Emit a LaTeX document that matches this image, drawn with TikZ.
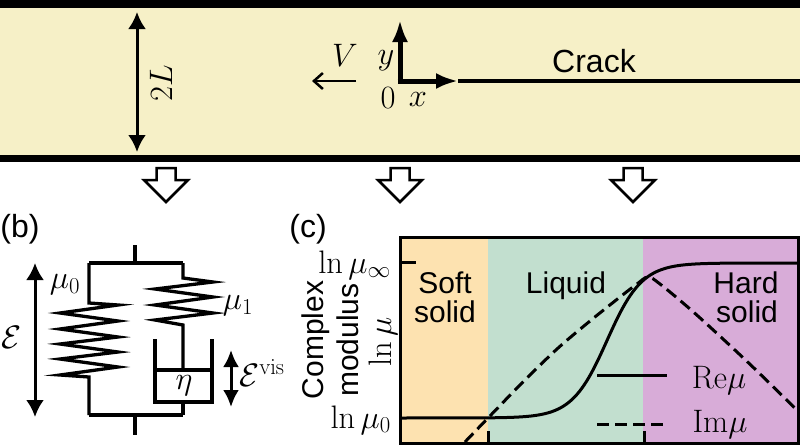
\RequirePackage{fix-cm}
\documentclass[tikz,border=0pt]{standalone}
\usepackage[no-math]{fontspec}
\setsansfont{Liberation Sans}
\usetikzlibrary{arrows.meta}
\definecolor{stripc}{RGB}{246,240,199}
\definecolor{softc}{RGB}{253,226,176}
\definecolor{liqc}{RGB}{194,223,207}
\definecolor{hardc}{RGB}{216,172,216}
\begin{document}
\begin{tikzpicture}[x=1pt,y=-1pt,
  font=\fontsize{32.5}{34}\selectfont,
  every node/.style={inner sep=0pt},
  txt/.style={font=\sffamily\fontsize{30}{30}\selectfont},
  bigtxt/.style={font=\sffamily\fontsize{32}{32}\selectfont},
  spr/.style={line width=3.3pt, line join=miter},
  hollow/.style={draw=black, fill=white, line width=2.5pt, line join=miter},
  dbl/.style={line width=3pt, {Latex[length=17pt,width=18pt]}-{Latex[length=17pt,width=18pt]}},
  axarr/.style={line width=5pt, -{Latex[length=22pt,width=16pt]}},
  curve/.style={line width=3pt},
  dashc/.style={line width=3pt, dash pattern=on 12pt off 6pt}]
\useasboundingbox (0,0) rectangle (800,445);
% ---------- (a) strip ----------
\fill[black] (0,0) rectangle (800,7.5);
\fill[stripc] (0,7.5) rectangle (800,154.5);
\fill[black] (0,154.5) rectangle (800,162);
\coordinate (Ltop) at (137,12);
\coordinate (Lbot) at (137,152);
\draw[dbl] (Ltop) -- (Lbot);
\node[rotate=90] (twoL) at (161,83) {$2L$};
\coordinate (Vs) at (356,81);
\coordinate (Ve) at (312,81);
\draw[line width=2.5pt, -{Straight Barb[length=9pt,width=16pt]}] (Vs) -- (Ve);
\node (V) at (345,55) {$V$};
\coordinate (O) at (400,81);
\coordinate (Ytip) at (400,20);
\coordinate (Xtip) at (458,81);
\coordinate (Cend) at (800,81);
\draw[line width=3.5pt] (Xtip) -- (Cend);
\draw[axarr] ([yshift=2.5pt]O) -- (Ytip);
\draw[axarr] ([xshift=-2.5pt]O) -- (Xtip);
\node (ylab) at (386,61) {$y$};
\node (zero) at (388,98) {$0$};
\node (xlab) at (418,99) {$x$};
\node[bigtxt] (crack) at (594,61) {Crack};
% hollow arrows
\foreach \cx in {166,400,633}{
  \draw[hollow] (\cx-9.5,168) -- (\cx+9.5,168) -- (\cx+9.5,180) -- (\cx+22,180)
     -- (\cx,202) -- (\cx-22,180) -- (\cx-9.5,180) -- cycle;
}
% ---------- (b) ----------
\node[bigtxt] (blab) at (20,229) {(b)};
\coordinate (topl) at (135,245);
\coordinate (topm) at (135,263);
\coordinate (botm) at (135,415);
\coordinate (botl) at (135,435);
\draw[spr] (topl) -- (topm);
\draw[spr] (botm) -- (botl);
\draw[spr] (89,263) -- (183,263);
\draw[spr] (89,415) -- (183,415);
\draw[spr] (89,263) -- (89,303) -- (118,305) -- (60,313) -- (118,321) -- (60,329)
  -- (118,337) -- (60,344) -- (118,352) -- (60,359) -- (118,367) -- (60,375)
  -- (89,377) -- (89,415);
\draw[spr] (183,263) -- (183,278) -- (213,282) -- (155,289) -- (213,297) -- (155,305)
  -- (213,313) -- (155,320) -- (183,325) -- (183,370);
\draw[spr] (155,370) -- (212,370);
\draw[spr] (155,339) -- (155,402) -- (212,402) -- (212,339);
\draw[spr] (183,402) -- (183,415);
\node (mu0) at (65,285) {$\mu_0$};
\node (mu1) at (238,306) {$\mu_1$};
\node (eta) at (184,386) {$\eta$};
\coordinate (Et) at (35,263);
\coordinate (Eb) at (35,417);
\draw[dbl] (Et) -- (Eb);
\node (E) at (12,337) {$\mathcal{E}$};
\coordinate (Evt) at (231,350);
\coordinate (Evb) at (231,407);
\draw[line width=3pt, {Latex[length=17pt,width=16pt]}-{Latex[length=17pt,width=16pt]}] (Evt) -- (Evb);
\node[anchor=west] (Ev) at (239,373) {$\mathcal{E}^{\mathrm{vis}}$};
% ---------- (c) ----------
\node[bigtxt] (clab) at (308,229) {(c)};
\fill[softc] (400,237) rectangle (488,445);
\fill[liqc] (488,237) rectangle (643,445);
\fill[hardc] (643,237) rectangle (798,445);
\begin{scope}
\clip (400,237) rectangle (798,443);
\draw[curve] (400,418) -- plot[domain=480:720, samples=100] (\x, {418-155/(1+exp(-(\x-607)/17.5))}) -- (798,263);
\draw[dashc] plot[smooth, tension=0.55] coordinates {(440,468) (488,418) (523,382) (557,349) (590,321) (620,297) (637,284) (648,277) (660,284) (690,309) (723,339) (757,371) (810,423)};
\end{scope}
\draw[line width=3pt] (400,237) rectangle (798,443);
\draw[line width=3pt] (400,262) -- (416,262);
\draw[line width=3pt] (488,443) -- (488,431);
\draw[line width=3pt] (644,443) -- (644,431);
\node[anchor=base east] (muinf) at (391,273) {$\ln\mu_\infty$};
\node[anchor=base east] (muzero) at (391,428) {$\ln\mu_0$};
\node[txt, rotate=90, anchor=base] (yl1) at (323,340) {Complex};
\node[txt, rotate=90, anchor=base] (yl2) at (358,340) {modulus};
\node[rotate=90, anchor=base] (yl3) at (391,342) {$\ln\mu$};
\node[txt, anchor=base] (s1) at (445,293) {Soft};
\node[txt, anchor=base] (s2) at (445,322) {solid};
\node[txt, anchor=base] (liq) at (566,293) {Liquid};
\node[txt, anchor=base] (h1) at (746,293) {Hard};
\node[txt, anchor=base] (h2) at (747,322) {solid};
\coordinate (lg1a) at (597,375);
\coordinate (lg1b) at (667,375);
\coordinate (lg2a) at (597,424);
\coordinate (lg2b) at (667,424);
\draw[curve] (lg1a) -- (lg1b);
\draw[dashc] (lg2a) -- (lg2b);
\node[anchor=base] (re) at (719,388) {$\mathrm{Re}\mu$};
\node[anchor=base] (im) at (720,432) {$\mathrm{Im}\mu$};
\end{tikzpicture}
\end{document}
